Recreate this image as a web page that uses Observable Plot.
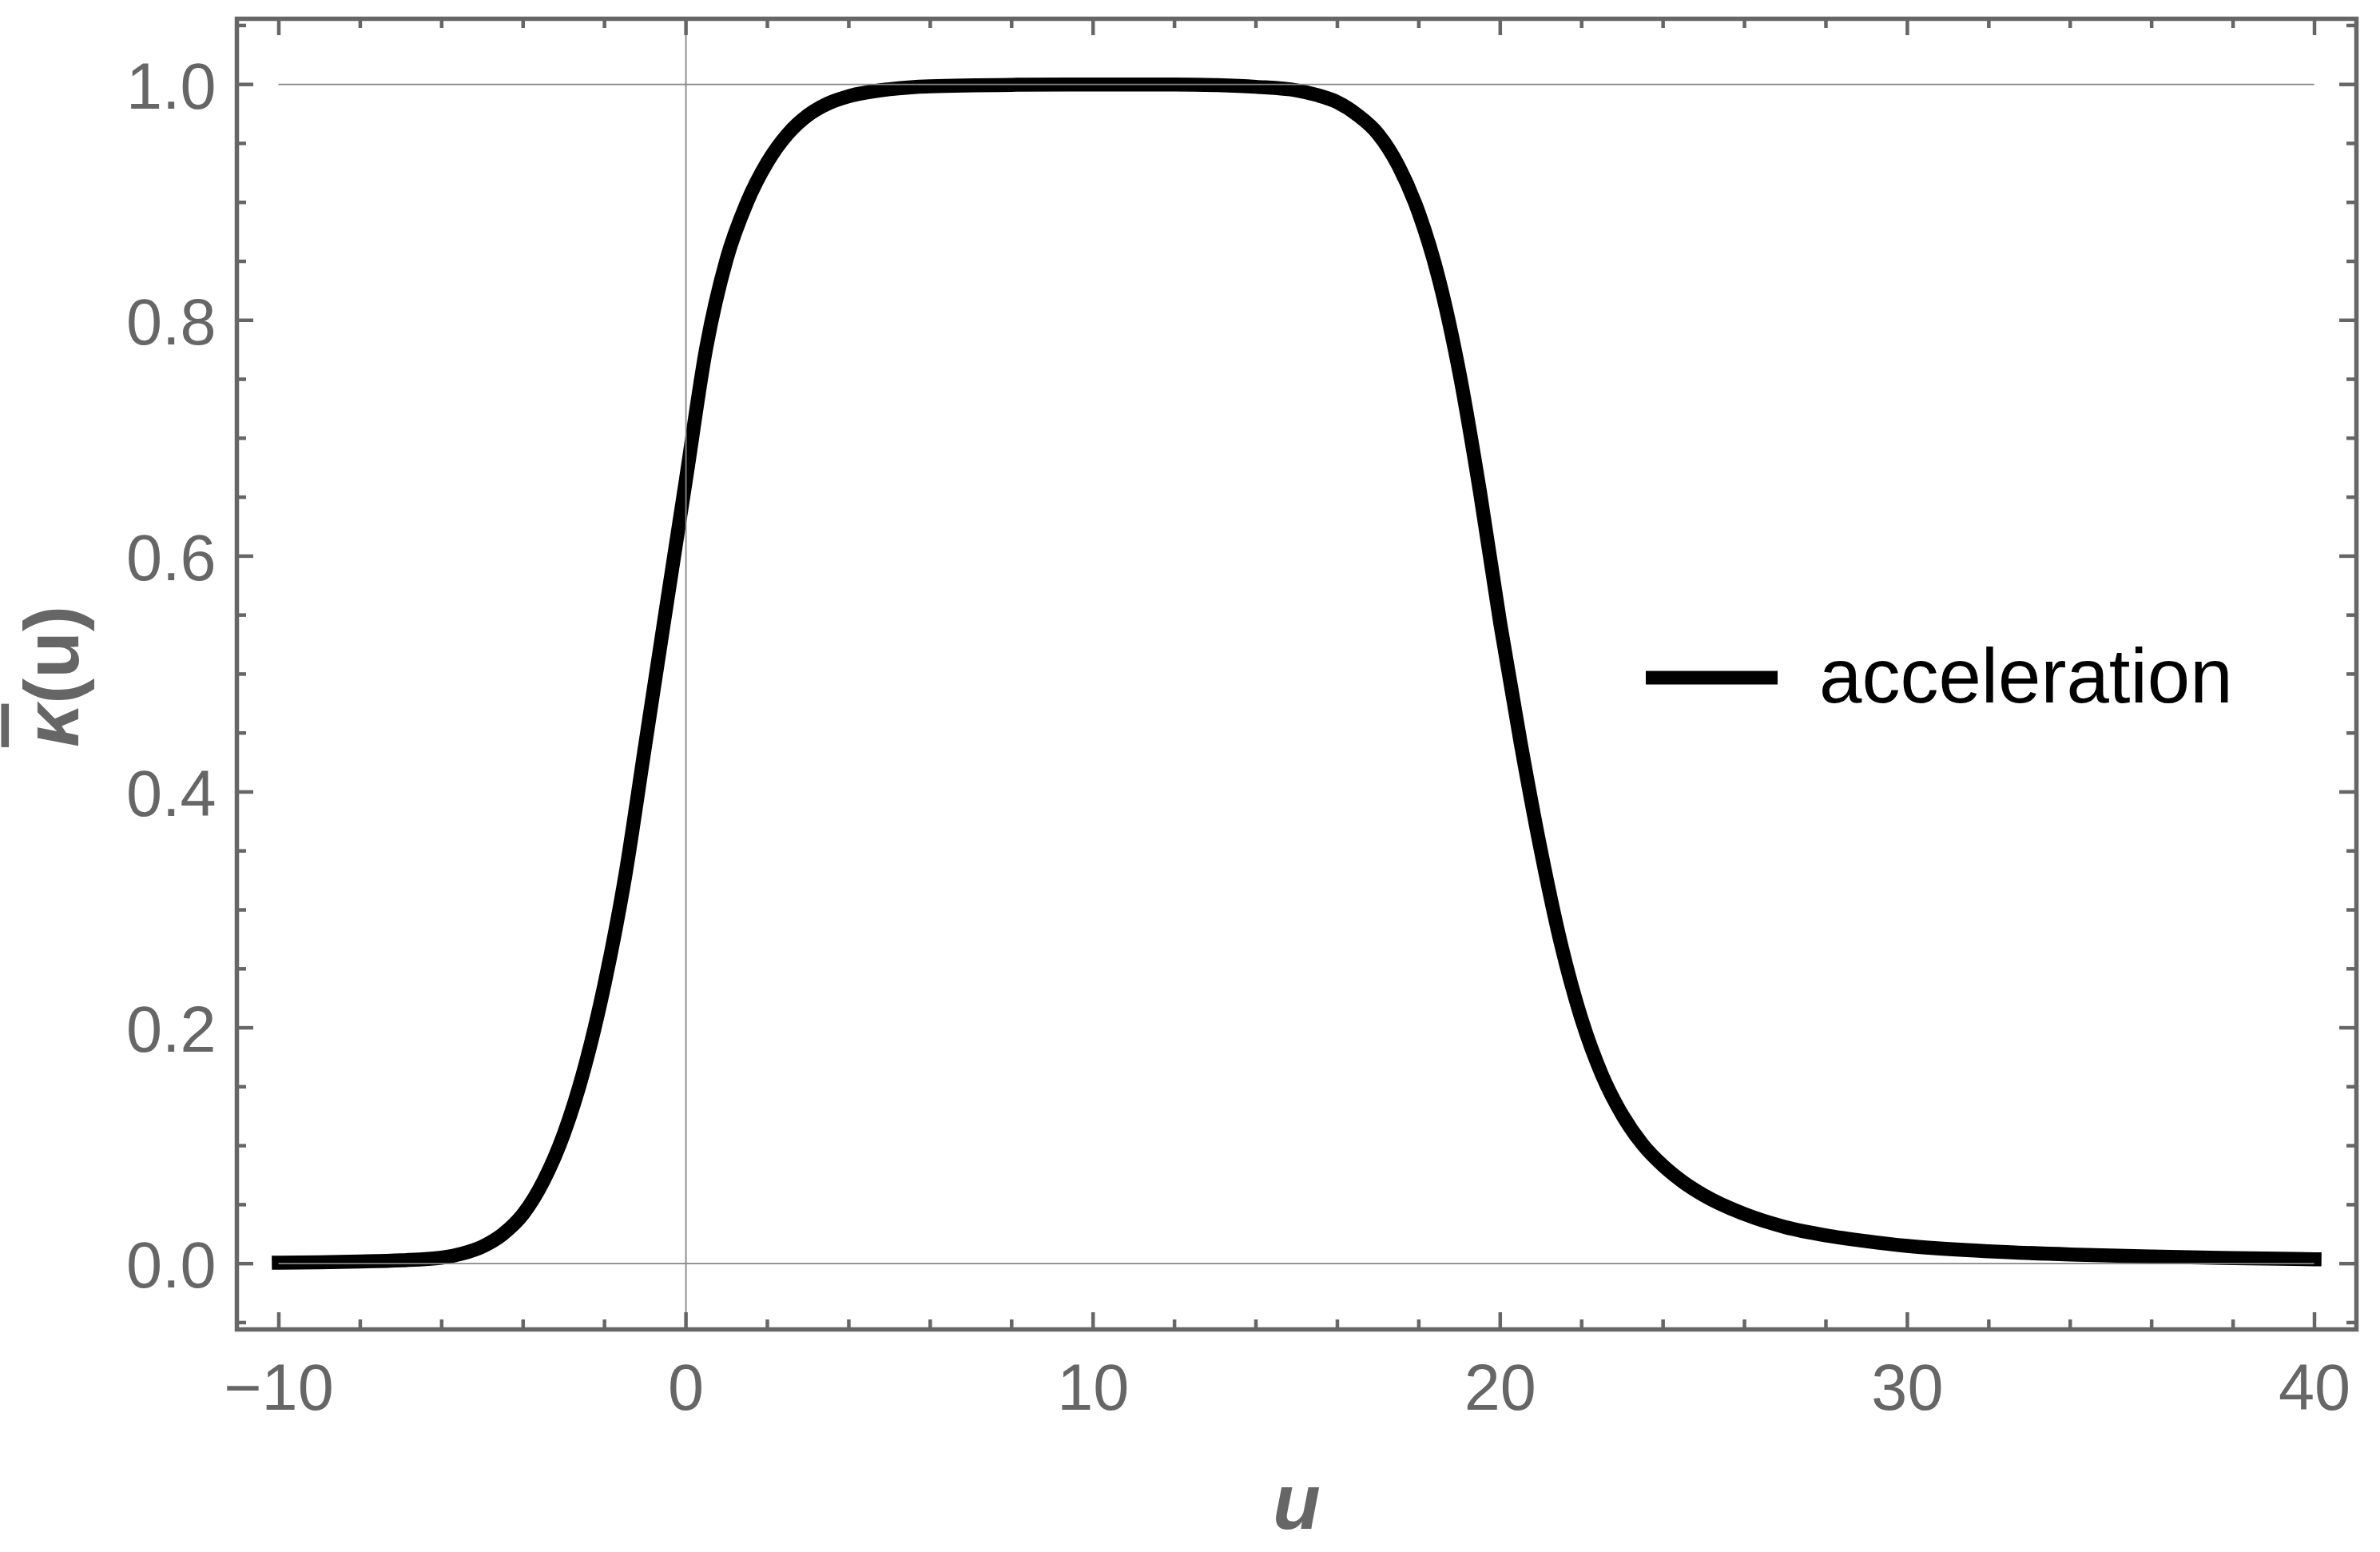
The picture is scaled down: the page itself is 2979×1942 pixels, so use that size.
<!DOCTYPE html>
<html><head><meta charset="utf-8">
<script src="https://cdn.jsdelivr.net/npm/d3@7"></script>
<script src="https://cdn.jsdelivr.net/npm/@observablehq/plot@0.6"></script>
<style>html,body{margin:0;padding:0;background:#fff;}</style>
</head><body><div id="chart"></div>
<script>
// ---- data ----
const uValues = [-10, -9, -8, -7, -6, -5.5, -5, -4.5, -4, -3.5, -3, -2.5, -2, -1.5, -1, -0.5, 0, 0.5, 1, 1.5, 2, 2.5, 3, 3.5, 4, 5, 6, 8, 10, 12, 13, 14, 15, 15.5, 16, 16.5, 17, 17.5, 18, 18.5, 19, 19.5, 20, 20.5, 21, 21.5, 22, 22.5, 23, 23.5, 24, 24.5, 25, 26, 27, 28, 29, 30, 32, 34, 36, 38, 40];
const kappaValues = [0.0008, 0.0012, 0.0018, 0.0028, 0.005, 0.0085, 0.0145, 0.025, 0.042, 0.07, 0.11, 0.165, 0.237, 0.327, 0.44, 0.553, 0.665, 0.777, 0.852, 0.900, 0.934, 0.958, 0.974, 0.984, 0.990, 0.996, 0.9985, 0.9997, 1.0, 1.0, 0.9995, 0.998, 0.995, 0.991, 0.985, 0.974, 0.958, 0.931, 0.891, 0.834, 0.755, 0.655, 0.543, 0.442, 0.35, 0.27, 0.207, 0.160, 0.126, 0.101, 0.083, 0.069, 0.058, 0.042, 0.031, 0.024, 0.019, 0.015, 0.0105, 0.0078, 0.006, 0.0047, 0.0037];
const seriesName = "acceleration";
const xMajorTicks = [-10, 0, 10, 20, 30, 40];
const xTickLabels = ["\u221210", "0", "10", "20", "30", "40"];
const xMinorTicks = [-8, -6, -4, -2, 2, 4, 6, 8, 12, 14, 16, 18, 22, 24, 26, 28, 32, 34, 36, 38];
const yMajorTicks = [0, 0.2, 0.4, 0.6, 0.8, 1.0];
const yTickLabels = ["0.0", "0.2", "0.4", "0.6", "0.8", "1.0"];
const yMinorTicks = [-0.05, 0.05, 0.1, 0.15, 0.25, 0.3, 0.35, 0.45, 0.5, 0.55, 0.65, 0.7, 0.75, 0.85, 0.9, 0.95, 1.05];
const referenceLinesY = [0, 1];
const referenceLinesX = [0];
const xLabel = "u";
const yLabel = "\u03BA(u)";

// ---- layout / style ----
const W = 2979, H = 1942, mL = 296, mR = 30, mT = 23, mB = 279;
const fW = W - mL - mR, fH = H - mT - mB;
const gray = "#666666";
const font = '"Liberation Sans", Arial, Helvetica, sans-serif';
const majorLen = 21, minorLen = 12, tickW = 4.5;

const data = uValues.map((u, i) => ({u, k: kappaValues[i]}));
const xt = xMajorTicks.map((v, i) => ({v, label: xTickLabels[i]}));
const yt = yMajorTicks.map((v, i) => ({v, label: yTickLabels[i]}));

const tickStyle = {stroke: gray, strokeWidth: tickW};

const chart = Plot.plot({
  width: W, height: H,
  marginLeft: mL, marginRight: mR, marginTop: mT, marginBottom: mB,
  style: {background: "white", fontFamily: font, overflow: "visible"},
  x: {domain: [-11.03, 41.03], axis: null},
  y: {domain: [-0.0558, 1.0557], axis: null},
  marks: [
    Plot.line(data, {x: "u", y: "k", stroke: "black", strokeWidth: 17.5, curve: "monotone-x", strokeLinecap: "square", strokeLinejoin: "round"}),
    Plot.ruleY(referenceLinesY, {y: d => d, x1: -10, x2: 40, stroke: "#858585", strokeWidth: 1.8}),
    Plot.ruleX(referenceLinesX, {x: d => d, stroke: "#858585", strokeWidth: 1.8}),
    // bottom ticks
    Plot.tickX(xMajorTicks, {x: d => d, insetTop: fH - majorLen, ...tickStyle}),
    Plot.tickX(xMinorTicks, {x: d => d, insetTop: fH - minorLen, ...tickStyle}),
    // top ticks
    Plot.tickX(xMajorTicks, {x: d => d, insetBottom: fH - majorLen, ...tickStyle}),
    Plot.tickX(xMinorTicks, {x: d => d, insetBottom: fH - minorLen, ...tickStyle}),
    // left ticks
    Plot.tickY(yMajorTicks, {y: d => d, insetRight: fW - majorLen, ...tickStyle}),
    Plot.tickY(yMinorTicks, {y: d => d, insetRight: fW - minorLen, ...tickStyle}),
    // right ticks
    Plot.tickY(yMajorTicks, {y: d => d, insetLeft: fW - majorLen, ...tickStyle}),
    Plot.tickY(yMinorTicks, {y: d => d, insetLeft: fW - minorLen, ...tickStyle}),
    Plot.frame({stroke: gray, strokeWidth: 5.5}),
    // tick labels
    Plot.text(xt, {x: "v", text: "label", frameAnchor: "bottom", lineAnchor: "bottom", textAnchor: "middle", dy: 100, fontSize: 81, fill: gray}),
    Plot.text(yt, {y: "v", text: "label", frameAnchor: "left", lineAnchor: "bottom", textAnchor: "end", dx: -26, dy: 30, fontSize: 81, fill: gray}),
    // axis titles
    Plot.text([xLabel], {text: d => d, frameAnchor: "bottom", lineAnchor: "bottom", textAnchor: "middle", dy: 249, fontSize: 98, fontWeight: "bold", fontStyle: "italic", fill: gray}),
    Plot.text([yLabel], {text: d => d, frameAnchor: "left", lineAnchor: "bottom", textAnchor: "middle", rotate: -90, dx: -199, dy: 3, fontSize: 96, fontWeight: "bold", fill: gray})
  ]
});

document.getElementById("chart").appendChild(chart);

// overline on kappa in the y title
const svg = d3.select(chart);
svg.selectAll("text").filter(function () { return this.textContent === yLabel; }).each(function () {
  const t = d3.select(this);
  t.text(null);
  t.append("tspan").attr("font-style", "italic").style("text-decoration", "overline").text(yLabel.slice(0, 1));
  t.append("tspan").text(yLabel.slice(1));
});

// legend (inside the frame, as in the reference)
const lg = svg.append("g").attr("class", "legend");
lg.append("line").attr("x1", 2060).attr("x2", 2225).attr("y1", 848).attr("y2", 848)
  .attr("stroke", "black").attr("stroke-width", 17);
lg.append("text").attr("x", 2277).attr("y", 879).attr("font-size", 96)
  .attr("text-anchor", "start")
  .attr("font-family", font).attr("fill", "black").text(seriesName);
</script>
</body></html>
